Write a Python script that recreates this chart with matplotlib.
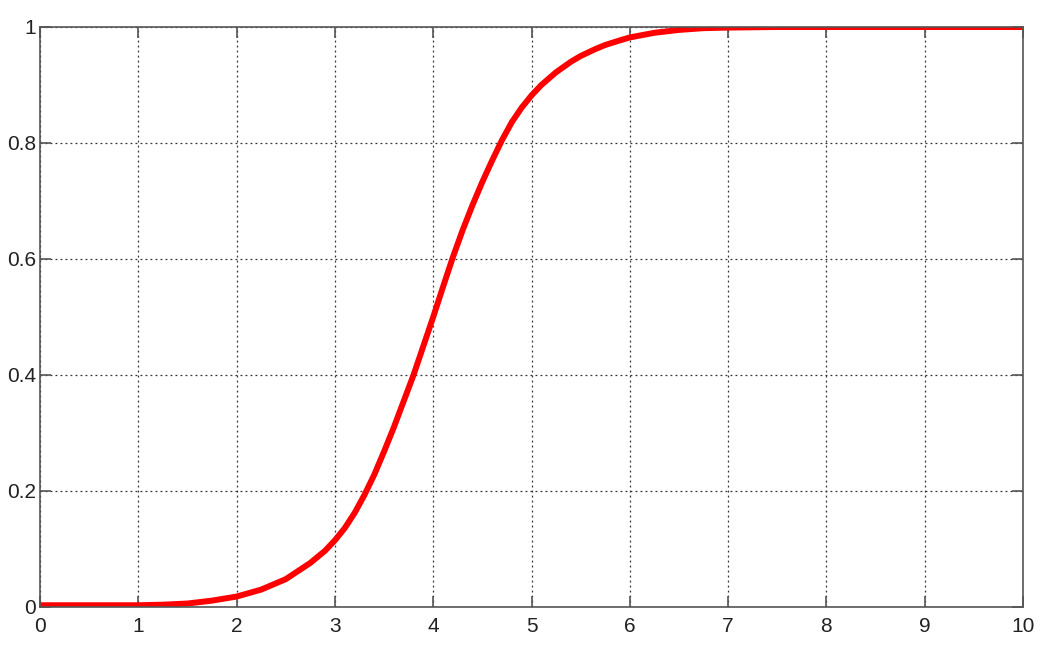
import matplotlib
matplotlib.use("Agg")
import matplotlib.pyplot as plt

x_vals = [0, 0.5, 1.0, 1.25, 1.5, 1.75, 2.0, 2.25, 2.5, 2.75, 2.9, 3.0, 3.1, 3.2, 3.3, 3.4,
          3.5, 3.6, 3.7, 3.8, 3.9, 4.0, 4.1, 4.2, 4.3, 4.4, 4.5, 4.6, 4.7, 4.8, 4.9, 5.0,
          5.1, 5.25, 5.4, 5.5, 5.65, 5.75, 5.9, 6.0, 6.25, 6.5, 6.75, 7.0, 7.5, 8.0, 9.0, 10.0]
y_vals = [0.003, 0.003, 0.003, 0.004, 0.006, 0.011, 0.018, 0.030, 0.048, 0.076, 0.097, 0.115,
          0.136, 0.162, 0.193, 0.228, 0.268, 0.310, 0.355, 0.400, 0.450, 0.500, 0.552, 0.603,
          0.650, 0.693, 0.733, 0.770, 0.805, 0.836, 0.861, 0.882, 0.900, 0.922, 0.940, 0.950,
          0.962, 0.969, 0.977, 0.982, 0.990, 0.995, 0.998, 0.999, 1.0, 1.0, 1.0, 1.0]
x_ticks = [0, 1, 2, 3, 4, 5, 6, 7, 8, 9, 10]
y_ticks = [0, 0.2, 0.4, 0.6, 0.8, 1]
y_tick_labels = ["0", "0.2", "0.4", "0.6", "0.8", "1"]

fig = plt.figure(figsize=(10.42, 6.5), dpi=100)
ax = fig.add_axes([40/1042, 43/650, 983/1042, 580/650])

ax.plot(x_vals, y_vals, color="#ff0000", linewidth=4.3, solid_capstyle="butt",
        solid_joinstyle="round")

ax.set_xlim(0, 10)
ax.set_ylim(0, 1)
ax.set_xticks(x_ticks)
ax.set_yticks(y_ticks)
ax.set_yticklabels(y_tick_labels)
ax.grid(True, linestyle=(0, (1.5, 2.5)), color="#333333", linewidth=0.9)

for s in ax.spines.values():
    s.set_color("#555555")
    s.set_linewidth(1.2)

ax.tick_params(direction="in", length=8, width=1.2, color="#555555",
               top=True, right=True, labelsize=15, labelcolor="#222222")
ax.tick_params(axis="x", pad=7)
ax.tick_params(axis="y", pad=3)
for lbl in ax.get_xticklabels() + ax.get_yticklabels():
    lbl.set_family(["Liberation Sans", "DejaVu Sans"])

fig.savefig("out.png", dpi=100, facecolor="white")
